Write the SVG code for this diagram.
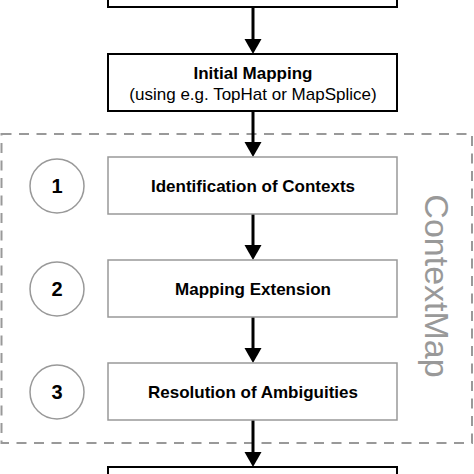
<svg xmlns="http://www.w3.org/2000/svg" width="474" height="474" viewBox="0 0 474 474">
<defs>
<style>
.bk{fill:#fff;stroke:#000;stroke-width:2}
.gr{fill:#fff;stroke:#999;stroke-width:1.5}
.t{font-family:"Liberation Sans",Arial,sans-serif;font-size:17px;text-anchor:middle;fill:#000}
.b{font-weight:bold}
.num{font-family:"Liberation Sans",Arial,sans-serif;font-size:20px;font-weight:bold;text-anchor:middle;fill:#000}
.ar{stroke:#000;stroke-width:3;fill:none}
.hd{fill:#000}
</style>
</defs>
<g id="contextmap">
<rect x="1.5" y="134" width="470.5" height="309" fill="none" stroke="#999" stroke-width="2" stroke-dasharray="10,7.5"/>
<text transform="translate(425,286) rotate(90)" font-family="'Liberation Sans',Arial,sans-serif" font-size="34" fill="#999" text-anchor="middle">ContextMap</text>
</g>
<g id="connectors">
<line class="ar" x1="253" y1="7" x2="253" y2="42"/>
<polygon class="hd" points="244.5,39 261.5,39 253,54"/>
<line class="ar" x1="253" y1="111" x2="253" y2="145"/>
<polygon class="hd" points="244.5,142 261.5,142 253,157"/>
<line class="ar" x1="253" y1="214" x2="253" y2="248"/>
<polygon class="hd" points="244.5,245 261.5,245 253,260"/>
<line class="ar" x1="253" y1="317" x2="253" y2="351"/>
<polygon class="hd" points="244.5,348 261.5,348 253,363"/>
<line class="ar" x1="253" y1="420" x2="253" y2="455"/>
<polygon class="hd" points="244.5,452 261.5,452 253,467"/>
</g>
<g id="top"><rect class="bk" x="108" y="-20" width="289" height="27"/></g>
<g id="initial">
<rect class="bk" x="108" y="54" width="289" height="57"/>
<text class="t b" x="253" y="79">Initial Mapping</text>
<text class="t" x="253" y="100" font-size="17.5">(using e.g. TopHat or MapSplice)</text>
</g>
<g id="step1">
<rect class="gr" x="108" y="157" width="289" height="57"/>
<text class="t b" x="253" y="192">Identification of Contexts</text>
</g>
<g id="step2">
<rect class="gr" x="108" y="260" width="289" height="57"/>
<text class="t b" x="253" y="295">Mapping Extension</text>
</g>
<g id="step3">
<rect class="gr" x="108" y="363" width="289" height="57"/>
<text class="t b" x="253" y="398">Resolution of Ambiguities</text>
</g>
<g id="c1"><circle cx="57" cy="186" r="27" fill="#fff" stroke="#999" stroke-width="1.5"/><text class="num" x="57" y="193">1</text></g>
<g id="c2"><circle cx="57" cy="289" r="27" fill="#fff" stroke="#999" stroke-width="1.5"/><text class="num" x="57" y="296">2</text></g>
<g id="c3"><circle cx="57" cy="392" r="27" fill="#fff" stroke="#999" stroke-width="1.5"/><text class="num" x="57" y="399">3</text></g>
<g id="bottom"><rect class="bk" x="108" y="467" width="289" height="20"/></g>
</svg>
